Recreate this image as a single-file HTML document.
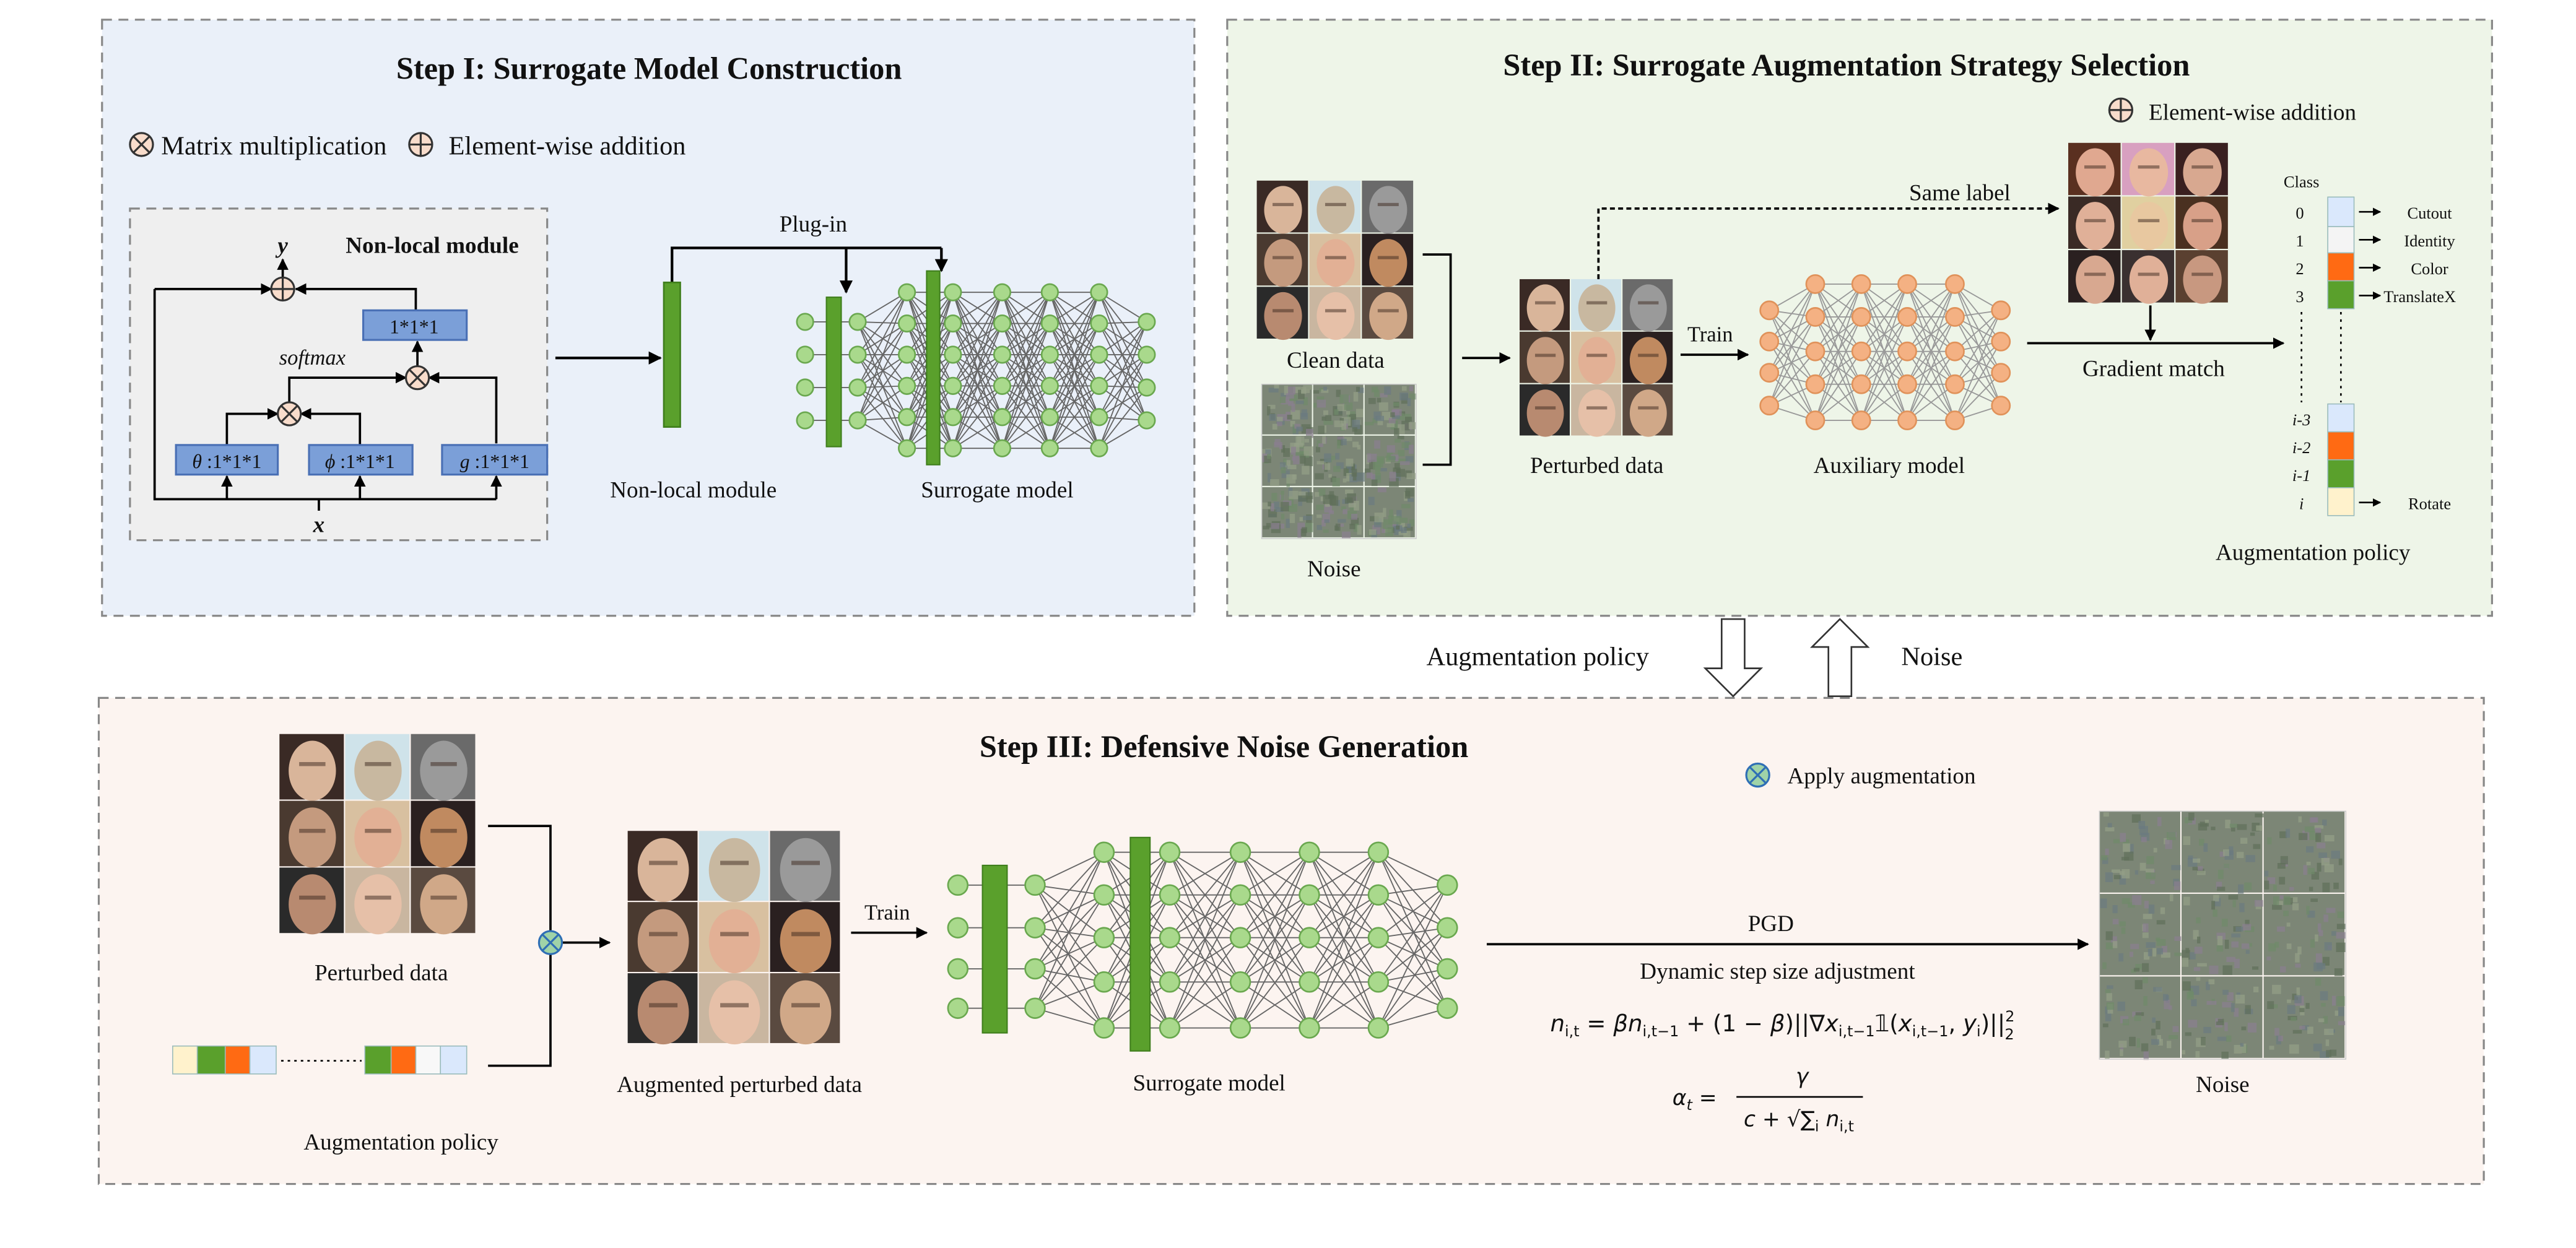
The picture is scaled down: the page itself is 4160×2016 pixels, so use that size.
<!DOCTYPE html>
<html><head><meta charset="utf-8"><style>
html,body{margin:0;padding:0;background:#fff}
svg{display:block}
text{font-family:"Liberation Serif",serif;fill:#111}
</style></head><body>
<svg id="s" width="4160" height="2016" viewBox="0 0 1568 760" xmlns="http://www.w3.org/2000/svg">
<defs>
<marker id="ar" viewBox="0 0 10 10" refX="9" refY="5" markerWidth="5" markerHeight="5" orient="auto-start-reverse"><path d="M0,0 L10,5 L0,10 z" fill="#000"/></marker>
</defs>
<rect x="62" y="12" width="665" height="363" fill="#eaf0f9" stroke="#888" stroke-width="1.2" stroke-dasharray="6,4"/>
<rect x="747" y="12" width="770" height="363" fill="#eef5e8" stroke="#888" stroke-width="1.2" stroke-dasharray="6,4"/>
<rect x="60" y="425" width="1452" height="296" fill="#fcf4f0" stroke="#888" stroke-width="1.2" stroke-dasharray="6,4"/>

<text x="395" y="48" text-anchor="middle" font-size="19" font-weight="bold">Step I: Surrogate Model Construction</text>
<text x="1124" y="46" text-anchor="middle" font-size="19" font-weight="bold">Step II: Surrogate Augmentation Strategy Selection</text>
<text x="745" y="461" text-anchor="middle" font-size="19" font-weight="bold">Step III: Defensive Noise Generation</text>

<g stroke="#333" stroke-width="1.2" fill="#f8dccb">
<circle cx="86" cy="88" r="7"/><path d="M81,83 L91,93 M91,83 L81,93"/>
<circle cx="256" cy="88" r="7"/><path d="M249,88 H263 M256,81 V95"/>
</g>
<text x="98" y="94" font-size="16">Matrix multiplication</text>
<text x="273" y="94" font-size="16">Element-wise addition</text>

<rect x="79" y="127" width="254" height="202" fill="#efefef" stroke="#888" stroke-width="1.2" stroke-dasharray="6,4"/>
<text x="263" y="154" text-anchor="middle" font-size="14" font-weight="bold">Non-local module</text>
<text x="172" y="154" text-anchor="middle" font-size="14" font-style="italic" font-weight="bold">y</text>
<text x="194" y="324" text-anchor="middle" font-size="14" font-style="italic" font-weight="bold">x</text>
<g stroke="#000" stroke-width="1.4" fill="none">
<path d="M94,176 V304 H302"/>
<path d="M94,176 H165" marker-end="url(#ar)"/>
<path d="M253,189 V176 H180" marker-end="url(#ar)"/>
<path d="M172,169 V158" marker-end="url(#ar)"/>
<path d="M254,223 V208" marker-end="url(#ar)"/>
<path d="M176,245 V230 H247" marker-end="url(#ar)"/>
<path d="M302,270 V230 H261" marker-end="url(#ar)"/>
<path d="M138,271 V252 H169" marker-end="url(#ar)"/>
<path d="M219,271 V252 H183" marker-end="url(#ar)"/>
<path d="M138,304 V290" marker-end="url(#ar)"/>
<path d="M219,304 V290" marker-end="url(#ar)"/>
<path d="M302,304 V290" marker-end="url(#ar)"/>
<path d="M194,304 V311"/>
</g>
<g stroke="#333" stroke-width="1.2" fill="#f8dccb">
<circle cx="172" cy="176" r="7"/><path d="M165,176 H179 M172,169 V183"/>
<circle cx="254" cy="230" r="7"/><path d="M249,225 L259,235 M259,225 L249,235"/>
<circle cx="176" cy="252" r="7"/><path d="M171,247 L181,257 M181,247 L171,257"/>
</g>
<text x="190" y="222" text-anchor="middle" font-size="13" font-style="italic">softmax</text>
<g fill="#7b9fd8" stroke="#4a70b5" stroke-width="1.2">
<rect x="221" y="189" width="63" height="18"/>
<rect x="107" y="271" width="62" height="18"/>
<rect x="188" y="271" width="63" height="18"/>
<rect x="269" y="271" width="64" height="18"/>
</g>
<text x="252" y="203" text-anchor="middle" font-size="12">1*1*1</text>
<text x="138" y="285" text-anchor="middle" font-size="12"><tspan font-style="italic">θ</tspan> :1*1*1</text>
<text x="219" y="285" text-anchor="middle" font-size="12"><tspan font-style="italic">ϕ</tspan> :1*1*1</text>
<text x="301" y="285" text-anchor="middle" font-size="12"><tspan font-style="italic">g</tspan> :1*1*1</text>

<path d="M338,218 H402" stroke="#000" stroke-width="1.6" marker-end="url(#ar)"/>
<text x="495" y="141" text-anchor="middle" font-size="14">Plug-in</text>
<g stroke="#000" stroke-width="1.6" fill="none">
<path d="M409,172 V151 H573"/>
<path d="M515,151 V178" marker-end="url(#ar)"/>
<path d="M573,151 V165" marker-end="url(#ar)"/>
</g>
<rect x="404" y="172" width="10" height="88" fill="#5aa02c" stroke="#3f7e1c"/>
<g id="net1"></g>
<text x="422" y="303" text-anchor="middle" font-size="14">Non-local module</text>
<text x="607" y="303" text-anchor="middle" font-size="14">Surrogate model</text>

<g stroke="#333" stroke-width="1.2" fill="#f8dccb">
<circle cx="1291" cy="67" r="7"/><path d="M1284,67 H1298 M1291,60 V74"/>
</g>
<text x="1308" y="73" font-size="14">Element-wise addition</text>
<g id="faces"></g>
<text x="813" y="224" text-anchor="middle" font-size="14">Clean data</text>
<text x="812" y="351" text-anchor="middle" font-size="14">Noise</text>
<g stroke="#000" stroke-width="1.4" fill="none">
<path d="M866,155 H883 V283 H866"/>
<path d="M890,218 H919" marker-end="url(#ar)"/>
<path d="M973,170 V127 H1253" stroke-dasharray="3,2" marker-end="url(#ar)"/>
<path d="M1023,216 H1064" marker-end="url(#ar)"/>
<path d="M1234,209 H1390" marker-end="url(#ar)"/>
<path d="M1309,186 V207" marker-end="url(#ar)"/>
</g>
<text x="972" y="288" text-anchor="middle" font-size="14">Perturbed data</text>
<text x="1193" y="122" text-anchor="middle" font-size="14">Same label</text>
<text x="1041" y="208" text-anchor="middle" font-size="13">Train</text>
<g id="aux"></g>
<text x="1150" y="288" text-anchor="middle" font-size="14">Auxiliary model</text>
<text x="1311" y="229" text-anchor="middle" font-size="14">Gradient match</text>

<text x="1401" y="114" text-anchor="middle" font-size="10">Class</text>
<g stroke="#9bb" stroke-width="0.6">
<rect x="1417" y="120" width="16" height="18" fill="#dae8fc"/>
<rect x="1417" y="138" width="16" height="16" fill="#f4f4f4"/>
<rect x="1417" y="154" width="16" height="17" fill="#ff6a13"/>
<rect x="1417" y="171" width="16" height="17" fill="#5aa02c"/>
<rect x="1417" y="246" width="16" height="17" fill="#dae8fc"/>
<rect x="1417" y="263" width="16" height="17" fill="#ff6a13"/>
<rect x="1417" y="280" width="16" height="17" fill="#5aa02c"/>
<rect x="1417" y="297" width="16" height="17" fill="#fff2cc"/>
</g>
<g stroke="#000" stroke-width="1" fill="none">
<path d="M1401,190 V245 M1425,190 V245" stroke-dasharray="1.5,3"/>
<path d="M1436,129 H1449" marker-end="url(#ar)"/>
<path d="M1436,146 H1449" marker-end="url(#ar)"/>
<path d="M1436,163 H1449" marker-end="url(#ar)"/>
<path d="M1436,180 H1449" marker-end="url(#ar)"/>
<path d="M1436,306 H1449" marker-end="url(#ar)"/>
</g>
<g font-size="10">
<text x="1400" y="133" text-anchor="middle">0</text>
<text x="1400" y="150" text-anchor="middle">1</text>
<text x="1400" y="167" text-anchor="middle">2</text>
<text x="1400" y="184" text-anchor="middle">3</text>
<text x="1401" y="259" text-anchor="middle" font-style="italic">i-3</text>
<text x="1401" y="276" text-anchor="middle" font-style="italic">i-2</text>
<text x="1401" y="293" text-anchor="middle" font-style="italic">i-1</text>
<text x="1401" y="310" text-anchor="middle" font-style="italic">i</text>
<text x="1479" y="133" text-anchor="middle">Cutout</text>
<text x="1479" y="150" text-anchor="middle">Identity</text>
<text x="1479" y="167" text-anchor="middle">Color</text>
<text x="1451" y="184">TranslateX</text>
<text x="1479" y="310" text-anchor="middle">Rotate</text>
</g>
<text x="1408" y="341" text-anchor="middle" font-size="14">Augmentation policy</text>

<text x="936" y="405" text-anchor="middle" font-size="16">Augmentation policy</text>
<text x="1176" y="405" text-anchor="middle" font-size="16">Noise</text>
<path d="M1048,377 H1062 V407 H1072 L1055,424 L1038,407 H1048 Z" fill="#fff" stroke="#333" stroke-width="1"/>
<path d="M1113,424 H1127 V394 H1137 L1120,377 L1103,394 H1113 Z" fill="#fff" stroke="#333" stroke-width="1"/>

<g stroke="#2f6fb5" stroke-width="1.2" fill="#9fd3a8">
<circle cx="1070" cy="472" r="7"/><path d="M1065,467 L1075,477 M1075,467 L1065,477"/>
</g>
<text x="1088" y="477" font-size="14">Apply augmentation</text>
<text x="232" y="597" text-anchor="middle" font-size="14">Perturbed data</text>
<g stroke="#9bb" stroke-width="0.6">
<rect x="105" y="637" width="15" height="17" fill="#fff2cc"/>
<rect x="120" y="637" width="17" height="17" fill="#5aa02c"/>
<rect x="137" y="637" width="15" height="17" fill="#ff6a13"/>
<rect x="152" y="637" width="16" height="17" fill="#dae8fc"/>
<rect x="222" y="637" width="16" height="17" fill="#5aa02c"/>
<rect x="238" y="637" width="15" height="17" fill="#ff6a13"/>
<rect x="253" y="637" width="15" height="17" fill="#f8f8f8"/>
<rect x="268" y="637" width="16" height="17" fill="#dae8fc"/>
</g>
<path d="M171,646 H220" stroke="#000" stroke-width="1" stroke-dasharray="1.5,2.5"/>
<text x="244" y="700" text-anchor="middle" font-size="14">Augmentation policy</text>
<g stroke="#000" stroke-width="1.4" fill="none">
<path d="M297,503 H335 V649 H297"/>
<path d="M342,574 H371" marker-end="url(#ar)"/>
<path d="M518,568 H564" marker-end="url(#ar)"/>
<path d="M905,575 H1271" marker-end="url(#ar)"/>
</g>
<g stroke="#2f6fb5" stroke-width="1.2" fill="#9fd3a8">
<circle cx="335" cy="574" r="7"/><path d="M330,569 L340,579 M340,569 L330,579"/>
</g>
<text x="450" y="665" text-anchor="middle" font-size="14">Augmented perturbed data</text>
<text x="540" y="560" text-anchor="middle" font-size="13">Train</text>
<g id="net3"></g>
<text x="736" y="664" text-anchor="middle" font-size="14">Surrogate model</text>
<text x="1078" y="567" text-anchor="middle" font-size="14">PGD</text>
<text x="1082" y="596" text-anchor="middle" font-size="14">Dynamic step size adjustment</text>
<text x="1085" y="628" text-anchor="middle" font-size="14" style="font-family:'DejaVu Sans',sans-serif"><tspan font-style="italic">n</tspan><tspan font-size="9" dy="3">i,t</tspan><tspan dy="-3"> = </tspan><tspan font-style="italic">βn</tspan><tspan font-size="9" dy="3">i,t−1</tspan><tspan dy="-3"> + (1 − </tspan><tspan font-style="italic">β</tspan><tspan>)||∇</tspan><tspan font-style="italic">x</tspan><tspan font-size="9" dy="3">i,t−1</tspan><tspan dy="-3">𝟙(</tspan><tspan font-style="italic">x</tspan><tspan font-size="9" dy="3">i,t−1</tspan><tspan dy="-3">, </tspan><tspan font-style="italic">y</tspan><tspan font-size="9" dy="3">i</tspan><tspan dy="-3">)||</tspan><tspan font-size="9" dy="-6">2</tspan><tspan font-size="9" dx="-6" dy="11">2</tspan></text>
<g font-size="13">
<text x="1018" y="673" font-style="italic" style="font-family:'DejaVu Sans',sans-serif">α<tspan font-size="9" dy="3">t</tspan><tspan dy="-3" font-style="normal"> =</tspan></text>
<text x="1097" y="660" text-anchor="middle" font-style="italic" style="font-family:'DejaVu Sans',sans-serif">γ</text>
<line x1="1057" y1="668" x2="1134" y2="668" stroke="#000" stroke-width="1"/>
<text x="1095" y="686" text-anchor="middle" style="font-family:'DejaVu Sans',sans-serif"><tspan font-style="italic">c</tspan> + √∑<tspan font-size="9" dy="3">i</tspan><tspan dy="-3" font-style="italic"> n</tspan><tspan font-size="9" dy="3">i,t</tspan></text>
</g>
<text x="1353" y="665" text-anchor="middle" font-size="14">Noise</text>
</svg>
<script>
var NS="http://www.w3.org/2000/svg";
function el(p,t,a){var e=document.createElementNS(NS,t);for(var k in a)e.setAttribute(k,a[k]);p.appendChild(e);return e;}
function net(g,cols,fill,stroke,ec,r,bars,straight){
 for(var i=0;i<cols.length-1;i++){var A=cols[i],B=cols[i+1];
  for(var a=0;a<A.ys.length;a++)for(var b=0;b<B.ys.length;b++){
   if(straight&&i==0&&a!=b)continue;
   el(g,"line",{x1:A.x,y1:A.ys[a],x2:B.x,y2:B.ys[b],stroke:ec,"stroke-width":0.7});}}
 (bars||[]).forEach(function(b){el(g,"rect",{x:b[0],y:b[1],width:b[2],height:b[3],fill:"#5aa02c",stroke:"#3f7e1c","stroke-width":0.8});});
 cols.forEach(function(c){c.ys.forEach(function(y){el(g,"circle",{cx:c.x,cy:y,r:r,fill:fill,stroke:stroke,"stroke-width":1});});});
}
function mk(xs,outer,inner,nOuterFirst){return xs.map(function(x,i){return {x:x,ys:(i<nOuterFirst||i==xs.length-1)?outer:inner};});}
net(document.getElementById("net1"),mk([490,522,552,580,610,639,669,698],[196,216,236,256],[178,197,216,235,254,273],2),"#a9d98c","#6aa84f","#666",5,[[503,181,9,91],[564,165,8,118]],true);
net(document.getElementById("net3"),mk([583,630,672,712,755,797,839,881],[539,565,590,614],[519,545,571,598,626],2),"#a9d98c","#6aa84f","#666",6,[[598,527,15,102],[688,510,12,130]],true);
net(document.getElementById("aux"),mk([1077,1105,1133,1161,1190,1218],[189,208,227,247],[173,193,214,234,256],1),"#f4b183","#e0925a","#999",5.5,[],false);
var fg=document.getElementById("faces");
var seed=7;function rnd(){seed=(seed*16807)%2147483647;return seed/2147483647;}
var bgs=["#3a2a25","#cfe3ea","#6a6a6a","#4a3a30","#d8c0a0","#2a2020","#2a2a2a","#c9b6a0","#5a4a40"];
var sk=["#d9b59a","#c8b8a0","#9a9a9a","#c49a7e","#e2b095","#c08a60","#b88a70","#e6c0a8","#d0a888"];
function faces(x,y,w,h,bg,skin){var cw=w/3,ch=h/3;
 for(var i=0;i<3;i++)for(var j=0;j<3;j++){var k=i*3+j;
  el(fg,"rect",{x:x+j*cw,y:y+i*ch,width:cw-0.8,height:ch-0.8,fill:bg[k]});
  el(fg,"ellipse",{cx:x+j*cw+cw/2,cy:y+i*ch+ch*0.55,rx:cw*0.36,ry:ch*0.45,fill:skin[k]});
  el(fg,"rect",{x:x+j*cw+cw*0.3,y:y+i*ch+ch*0.42,width:cw*0.4,height:ch*0.06,fill:"rgba(60,40,30,0.5)"});}}
function noise(x,y,w,h){var cw=w/3,ch=h/3;
 for(var i=0;i<3;i++)for(var j=0;j<3;j++){
  el(fg,"rect",{x:x+j*cw,y:y+i*ch,width:cw-0.8,height:ch-0.8,fill:"#7c8676"});
  for(var n=0;n<40;n++){var c=["#6f8a6a","#8a7f90","#6b7a80","#94a088","#5f6f5a"][Math.floor(rnd()*5)];
   el(fg,"rect",{x:x+j*cw+rnd()*(cw-4),y:y+i*ch+rnd()*(ch-4),width:2+rnd()*4,height:2+rnd()*4,fill:c,opacity:0.7});}}
 el(fg,"rect",{x:x,y:y,width:w,height:h,fill:"none",stroke:"#ccc","stroke-width":0.6});}
faces(765,110,96,97,bgs,sk);
noise(768,234,94,94);
faces(925,170,94,96,bgs,sk);
var bg2=["#5a3020","#d8a0c0","#3a2020","#3a2a25","#e0d0a0","#4a3020","#2a2020","#3a3030","#5a4030"];
var sk2=["#e0a890","#e8b8a0","#d8a890","#e0b098","#e8c8a0","#d8a088","#d8a890","#e0b098","#c89880"];
faces(1259,87,98,98,bg2,sk2);
faces(170,447,120,122,bgs,sk);
faces(382,506,130,130,bgs,sk);
noise(1278,494,150,151);
</script>
</body></html>
